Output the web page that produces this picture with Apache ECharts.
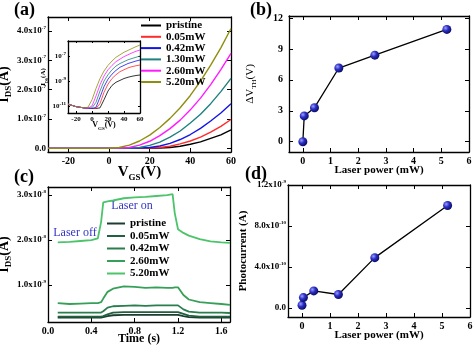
<!DOCTYPE html>
<html><head><meta charset="utf-8">
<script src="https://cdn.jsdelivr.net/npm/echarts@6/dist/echarts.min.js"></script>
<style>html,body{margin:0;padding:0;background:#fff}#c{width:474px;height:345px}</style>
</head><body><div id="c"></div>
<script>
// ---------- Panel (a): transfer curves, units of 1e-7 A ----------
const vgs = [-30,-25,-20,-15,-10,-5,0,5,10,15,20,25,30,35,40,45,50,55,60];
const seriesNames = ['pristine','0.05mW','0.42mW','1.30mW','2.60mW','5.20mW'];
const idsPristine = [0,0,0,0,0,0,0,0,0,0,0.005,0.01,0.03,0.07,0.14,0.22,0.34,0.46,0.63];
const ids005 = [0,0,0,0,0,0,0,0,0,0.005,0.01,0.03,0.07,0.15,0.25,0.38,0.55,0.75,0.98];
const ids042 = [0,0,0,0,0,0,0,0,0.005,0.01,0.03,0.08,0.17,0.3,0.47,0.68,0.93,1.2,1.52];
const ids130 = [0,0,0,0,0,0,0,0.005,0.01,0.03,0.1,0.21,0.38,0.59,0.86,1.16,1.52,1.93,2.38];
const ids260 = [0,0,0,0,0,0,0,0.01,0.03,0.11,0.24,0.43,0.67,0.96,1.31,1.71,2.17,2.68,3.23];
const ids520 = [0,0,0,0,0,0,0.005,0.03,0.11,0.25,0.45,0.71,1.02,1.38,1.8,2.29,2.83,3.42,4.08];
const aXTicks = [-20,0,20,40,60];
const aYTicks = [0,1,2,3,4];
const aYLabels = ['0.0','1.0x10','2.0x10','3.0x10','4.0x10'];
const aYExp = ['','-7','-7','-7','-7'];

// ---------- Inset: log10 of I_DS ----------
const logPristine = [-10.85,-10.95,-11.05,-11.1,-11.15,-11.18,-11.2,-11.2,-11.15,-10.5,-9.8,-9.35,-9.1,-8.95,-8.8,-8.7,-8.62,-8.56,-8.52];
const log005 = [-10.85,-10.95,-11.05,-11.1,-11.15,-11.18,-11.2,-11.2,-10.8,-9.9,-9.25,-8.8,-8.5,-8.25,-8.1,-7.95,-7.85,-7.78,-7.72];
const log042 = [-10.85,-10.95,-11.05,-11.1,-11.15,-11.18,-11.2,-11.1,-10.3,-9.45,-8.85,-8.45,-8.15,-7.9,-7.75,-7.6,-7.5,-7.4,-7.32];
const log130 = [-10.85,-10.95,-11.05,-11.1,-11.15,-11.18,-11.15,-10.7,-9.8,-9.0,-8.5,-8.1,-7.8,-7.6,-7.45,-7.3,-7.2,-7.1,-7.0];
const log260 = [-10.85,-10.95,-11.05,-11.1,-11.15,-11.18,-11.0,-10.2,-9.3,-8.6,-8.1,-7.75,-7.45,-7.25,-7.05,-6.9,-6.75,-6.62,-6.52];
const log520 = [-10.85,-10.95,-11.05,-11.1,-11.15,-11.1,-10.5,-9.6,-8.8,-8.2,-7.75,-7.4,-7.1,-6.9,-6.7,-6.55,-6.4,-6.25,-6.12];
const insetXTicks = [-20,0,20,40,60];
const insetYTicks = [-11,-9,-7];

// ---------- Panel (b) ----------
const powerMW = [0,0.05,0.42,1.3,2.6,5.2];
const deltaVth = [0,2.5,3.3,7.15,8.4,10.9];
const bXTicks = [0,1,2,3,4,5,6];
const bYTicks = [0,3,6,9,12];

// ---------- Panel (c): time response, units of 1e-8 A ----------
const timeS = [0.09,0.2,0.3,0.4,0.46,0.49,0.51,0.55,0.6,0.7,0.8,0.9,1.0,1.1,1.15,1.17,1.2,1.25,1.3,1.4,1.5,1.6,1.68];
const tPristine = [0.28,0.28,0.28,0.28,0.28,0.28,0.29,0.31,0.33,0.34,0.34,0.34,0.34,0.34,0.34,0.34,0.34,0.31,0.29,0.28,0.28,0.28,0.28];
const t005 = [0.3,0.3,0.3,0.3,0.3,0.3,0.31,0.35,0.39,0.4,0.4,0.4,0.4,0.4,0.4,0.4,0.4,0.36,0.32,0.3,0.3,0.3,0.3];
const t042 = [0.39,0.39,0.39,0.39,0.39,0.39,0.42,0.5,0.53,0.54,0.55,0.54,0.55,0.55,0.55,0.55,0.55,0.46,0.41,0.39,0.39,0.39,0.38];
const t260 = [0.6,0.58,0.59,0.6,0.6,0.62,0.7,0.85,0.92,0.97,0.96,0.94,0.95,0.94,0.94,0.95,0.95,0.78,0.68,0.62,0.6,0.58,0.56];
const t520 = [1.95,1.96,1.98,2.0,2.04,2.4,2.84,2.86,2.88,2.93,2.95,2.96,2.98,3.0,3.02,2.6,2.24,2.16,2.1,2.02,1.97,1.95,1.94];
const cNames = ['pristine','0.05mW','0.42mW','2.60mW','5.20mW'];
const cXTicks = [0,0.4,0.8,1.2,1.6];
const cYTicks = [1,2,3];
const cYLabels = ['1.0x10','2.0x10','3.0x10'];
const cYExp = ['-9','-8','-8'];

// ---------- Panel (d): photocurrent, units of 1e-10 A ----------
const photocurrent = [0.25,1.0,1.65,1.3,4.9,10.0];
const dYTicks = [0,4,8,12];
const dYLabels = ['0.0','4.0x10','8.0x10','1.2x10'];
const dYExp = ['','-10','-10','-9'];

// ---------- styling ----------
const FONT = 'Liberation Serif';
const colorsA = ['#000000','#ff2a2a','#1414e6','#1f8080','#ff1aff','#8e8e10'];
const colorsC = ['#1c3d30','#22603f','#2a7d4c','#36a058','#4cc46a'];

const xAxes = [], yAxes = [];
function lbl(size){
  const s = Math.max(5, Math.round(size*0.58));
  return {
    b:{fontFamily:FONT,fontWeight:'bold',fontSize:size,lineHeight:size+2,color:'#000'},
    sup:{fontFamily:FONT,fontWeight:'bold',fontSize:s,lineHeight:s,verticalAlign:'top',color:'#000'}
  };
}
function nameRich(size, weight){
  return {
    b:{fontFamily:FONT,fontWeight:weight,fontSize:size,lineHeight:size+4,color:'#000'},
    s:{fontFamily:FONT,fontWeight:weight,fontSize:Math.round(size*0.62),lineHeight:Math.round(size*0.62),verticalAlign:'bottom',color:'#000'}
  };
}
function axisPair(kind, gridIndex, c){
  const arr = kind === 'x' ? xAxes : yAxes;
  const base = {
    type:'value', gridIndex:gridIndex, min:c.min, max:c.max,
    axisLine:{show:true,onZero:false,lineStyle:{color:'#000',width:1.3}},
    splitLine:{show:false},
    axisTick:{show:true,inside:true,length:c.tick||4,customValues:c.ticks,lineStyle:{color:'#000',width:1}}
  };
  const fs = c.fs || 10;
  const main = Object.assign({}, base, {
    position: kind === 'x' ? 'bottom' : 'left',
    axisLabel:{show:true,customValues:c.ticks,formatter:c.fmt,margin:c.margin||3,rich:lbl(fs),
      color:'#000',fontFamily:FONT,fontWeight:'bold',fontSize:fs},
    name:c.name||'', nameLocation:'middle', nameGap:c.nameGap||20, nameRotate: kind === 'y' ? 90 : 0,
    nameTextStyle:{rich:nameRich(c.nfs||12,c.nw||'bold'),fontFamily:FONT,fontWeight:c.nw||'bold',fontSize:c.nfs||12,color:'#000'}
  });
  if (kind === 'x') main.nameMoveOverlap = false;
  const mirror = Object.assign({}, base, {position: kind === 'x' ? 'top' : 'right', axisLabel:{show:false}, name:''});
  arr.push(main);
  const idx = arr.length - 1;
  arr.push(mirror);
  return idx;
}
function lookupFmt(ticks, labels, exps){
  return function(v){
    let i = ticks.indexOf(v);
    if (i < 0) { for (let k=0;k<ticks.length;k++){ if (Math.abs(ticks[k]-v) < 1e-9) i = k; } }
    if (i < 0) return '';
    return exps[i] ? '{b|' + labels[i] + '}{sup|' + exps[i] + '}' : '{b|' + labels[i] + '}';
  };
}
const plainFmt = function(v){ return '{b|' + v + '}'; };
const oneDecFmt = function(v){ return '{b|' + v.toFixed(1) + '}'; };

// grids
const grids = [
  {left:48, top:17, width:183, height:135},
  {left:289, top:16, width:180, height:136},
  {left:48, top:187, width:182, height:135},
  {left:288, top:185, width:182, height:132},
  {left:68, top:41, width:72, height:72}
].map(g => Object.assign({containLabel:false, outerBoundsMode:'none'}, g));

// axes
const axA = axisPair('x', 0, {min:-30,max:60,ticks:aXTicks,fmt:plainFmt,name:'{b|V}{s|GS}{b|(V)}',nameGap:11,nfs:15});
const ayA = axisPair('y', 0, {min:-0.125,max:4.47,ticks:aYTicks,fmt:lookupFmt(aYTicks,aYLabels,aYExp),fs:9,name:'{b|I}{s|DS}{b|(A)}',nameGap:31,nfs:14,margin:2});
const axB = axisPair('x', 1, {min:-0.5,max:6,ticks:bXTicks,fmt:plainFmt,name:'{b|Laser power (mW)}',nameGap:11,nfs:11});
const ayB = axisPair('y', 1, {min:-1,max:12.2,ticks:bYTicks,fmt:plainFmt,margin:6,name:'{b|ΔV}{s|TH}{b|(V)}',nameGap:31,nfs:11,nw:'normal'});
const axC = axisPair('x', 2, {min:0,max:1.68,ticks:cXTicks,fmt:oneDecFmt,name:'{b|Time (s)}',nameGap:9,nfs:12});
const ayC = axisPair('y', 2, {min:0.18,max:3.18,ticks:cYTicks,fmt:lookupFmt(cYTicks,cYLabels,cYExp),fs:9,name:'{b|I}{s|DS}{b|(A)}',nameGap:31,nfs:14,margin:2});
const axD = axisPair('x', 3, {min:-0.5,max:6,ticks:bXTicks,fmt:plainFmt,name:'{b|Laser power (mW)}',nameGap:11,nfs:11});
const ayD = axisPair('y', 3, {min:-0.9,max:12,ticks:dYTicks,fmt:lookupFmt(dYTicks,dYLabels,dYExp),fs:9,name:'{b|Photocurrent (A)}',nameGap:37,nfs:11,margin:2});
const axI = axisPair('x', 4, {min:-30,max:60,ticks:insetXTicks,fmt:plainFmt,fs:7,tick:2,margin:2,name:'{b|V}{s|GS}{b|(V)}',nameGap:6,nfs:8});
const ayI = axisPair('y', 4, {min:-11.56,max:-5.8,ticks:insetYTicks,fmt:function(v){return '{b|10}{sup|' + v + '}';},fs:7,tick:2,margin:2,name:'{b|I}{s|DS}{b|(A)}',nameGap:14,nfs:7});

const series = [];
const aData = [idsPristine, ids005, ids042, ids130, ids260, ids520];
const insetData = [logPristine, log005, log042, log130, log260, log520];
seriesNames.forEach(function(n, k){
  series.push({type:'line', name:n, xAxisIndex:axA, yAxisIndex:ayA, showSymbol:false, symbol:'none',
    data: vgs.map((v,i)=>[v, aData[k][i]]), lineStyle:{width:1.4,color:colorsA[k]}, itemStyle:{color:colorsA[k]}, z:3});
  series.push({type:'line', name:n, xAxisIndex:axI, yAxisIndex:ayI, showSymbol:false, symbol:'none',
    data: vgs.map((v,i)=>[v, insetData[k][i]]), lineStyle:{width:0.8,color:colorsA[k]}, itemStyle:{color:colorsA[k]}, z:3});
});
const cData = [tPristine, t005, t042, t260, t520];
cNames.forEach(function(n, k){
  series.push({type:'line', name:n, xAxisIndex:axC, yAxisIndex:ayC, showSymbol:false, symbol:'none',
    data: timeS.map((t,i)=>[t, cData[k][i]]), lineStyle:{width:1.8,color:colorsC[k]}, itemStyle:{color:colorsC[k]}, z:3});
});
const ball = {type:'radial', x:0.35, y:0.35, r:0.7, colorStops:[{offset:0,color:'#9aa0ff'},{offset:0.45,color:'#2b2fc4'},{offset:1,color:'#0a0a60'}]};
series.push({type:'line', name:'dVth', xAxisIndex:axB, yAxisIndex:ayB, symbol:'circle', symbolSize:9,
  data: powerMW.map((p,i)=>[p, deltaVth[i]]), lineStyle:{width:1.3,color:'#000'}, itemStyle:{color:ball}, z:4});
series.push({type:'line', name:'photo', xAxisIndex:axD, yAxisIndex:ayD, symbol:'circle', symbolSize:9,
  data: powerMW.map((p,i)=>[p, photocurrent[i]]), lineStyle:{width:1.3,color:'#000'}, itemStyle:{color:ball}, z:4});

const legTxt = {fontFamily:FONT,fontWeight:'bold',fontSize:11,lineHeight:11,color:'#000'};
const option = {
  animation:false,
  backgroundColor:'#fff',
  grid: grids,
  xAxis: xAxes,
  yAxis: yAxes,
  legend: [
    {orient:'vertical', left:141, top:20, icon:'rect', itemWidth:20, itemHeight:2, itemGap:0.3, selectedMode:false,
      padding:0, textStyle:legTxt, data: seriesNames.map((n,k)=>({name:n, itemStyle:{color:colorsA[k]}}))},
    {orient:'vertical', left:107, top:218, icon:'rect', itemWidth:18, itemHeight:2, itemGap:1.5, selectedMode:false,
      padding:0, textStyle:legTxt, data: cNames.map((n,k)=>({name:n, itemStyle:{color:colorsC[k]}}))}
  ],
  graphic: [
    {type:'text', left:14, top:1, style:{text:'(a)', font:'bold 18px "Liberation Serif"', fill:'#000'}},
    {type:'text', left:250, top:1, style:{text:'(b)', font:'bold 18px "Liberation Serif"', fill:'#000'}},
    {type:'text', left:14, top:168, style:{text:'(c)', font:'bold 18px "Liberation Serif"', fill:'#000'}},
    {type:'text', left:245, top:165, style:{text:'(d)', font:'bold 18px "Liberation Serif"', fill:'#000'}},
    {type:'text', x:132, y:206, style:{text:'Laser on', font:'12px "Liberation Serif"', fill:'#3535c8', align:'center', verticalAlign:'middle'}},
    {type:'text', x:75, y:233, style:{text:'Laser off', font:'12px "Liberation Serif"', fill:'#3535c8', align:'center', verticalAlign:'middle'}}
  ],
  series: series
};
const chart = echarts.init(document.getElementById('c'), null, {renderer:'canvas'});
chart.setOption(option);
</script></body></html>
